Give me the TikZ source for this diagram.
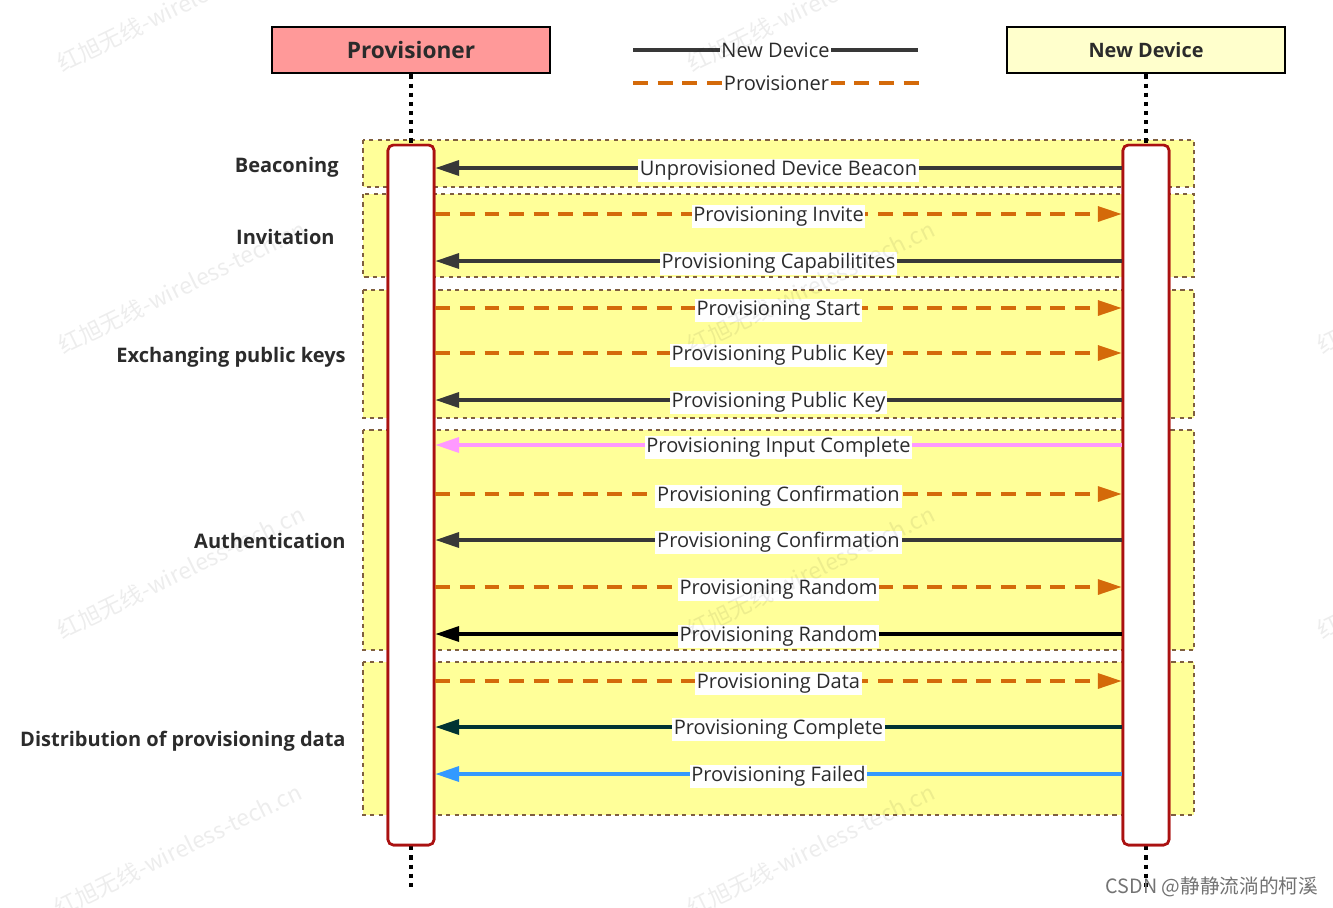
\documentclass[tikz,border=0pt]{standalone}
\usepackage{fontspec}
\setmainfont{Open Sans}
\newfontfamily\cjk{Noto Sans CJK SC}
\usetikzlibrary{arrows.meta,positioning}
\definecolor{provred}{HTML}{FF9999}
\definecolor{devyellow}{HTML}{FFFFCC}
\definecolor{groupyellow}{HTML}{FFFF99}
\definecolor{groupbrown}{HTML}{7F5F3F}
\definecolor{barred}{HTML}{AA1111}
\definecolor{provorange}{HTML}{D46A0A}
\definecolor{devgray}{HTML}{383838}
\definecolor{inpink}{HTML}{FF99FF}
\definecolor{donegreen}{HTML}{003333}
\definecolor{failblue}{HTML}{3399FF}
\definecolor{txtgray}{HTML}{2B2B2B}
\newcommand\msgfont{\fontsize{11.4}{13.5}\selectfont}
\tikzset{
  head/.style={draw=black,line width=1.6pt,minimum width=5.56cm,minimum height=0.92cm,
    font=\bfseries\fontsize{11.3}{13.5}\selectfont,text=txtgray},
  bar/.style={draw=barred,fill=white,line width=1.5pt,rounded corners=3pt,
    minimum width=0.92cm,minimum height=14cm},
  lifeline/.style={line width=2pt,dash pattern=on 2.4pt off 2.8pt},
  group/.style={draw=groupbrown,fill=groupyellow,line width=0.9pt,dash pattern=on 2.4pt off 2.4pt},
  grouplabel/.style={anchor=east,inner sep=0pt,font=\bfseries\msgfont,text=txtgray},
  msg/.style={fill=white,inner sep=1pt,yshift=-1.5pt,font=\msgfont,text=txtgray},
  tip/.style={-{Triangle[length=13.5pt,width=8.5pt]}},
  devmsg/.style={tip,draw=devgray,line width=2pt},
  provmsg/.style={tip,draw=provorange,line width=1.8pt,dash pattern=on 8.5pt off 5.5pt},
  wmark/.style={rotate=26,font=\cjk\fontsize{13}{15}\selectfont,text=black,text opacity=0.07}
}
\begin{document}
\begin{tikzpicture}[x=0.02cm,y=-0.02cm]
\useasboundingbox (0,0) rectangle (1333,907);
\clip (0,0) rectangle (1333,907);

% groups
\draw[group] (363,140) rectangle (1194,187);
\draw[group] (363,194) rectangle (1194,277);
\draw[group] (363,290) rectangle (1194,418);
\draw[group] (363,430) rectangle (1194,650);
\draw[group] (363,662) rectangle (1194,815);
\node[grouplabel] (lbeacon) at (339,167) {Beaconing};
\node[grouplabel] (linvite) at (335,237) {Invitation};
\node[grouplabel] (lkeys) at (346,357) {Exchanging public keys};
\node[grouplabel] (lauth) at (346,541) {Authentication};
\node[grouplabel] (ldist) at (346,741) {Distribution of provisioning data};

% participants
\node[head,fill=provred,font=\bfseries\fontsize{12.9}{15}\selectfont] (provhead) at (411,50) {Provisioner};
\node[head,fill=devyellow] (devhead) at (1146,50) {New Device};
\node[bar] (provbar) at (411,495) {};
\node[bar] (devbar) at (1146,495) {};
\coordinate (provend) at (411,887);
\coordinate (devend) at (1146,887);
\draw[lifeline] (provhead.south) -- (provbar.north);
\draw[lifeline] (devhead.south) -- (devbar.north);
\draw[lifeline] (provbar.south) -- (provend);
\draw[lifeline] (devbar.south) -- (devend);
\node[bar] at (provbar) {};
\node[bar] at (devbar) {};

% legend
\coordinate (lgdevA) at (633,50);
\coordinate (lgdevB) at (918,50);
\coordinate (lgprovA) at (633,83);
\coordinate (lgprovB) at (920,83);
\draw[draw=devgray,line width=2pt] (lgdevA) -- node[msg,yshift=1.5pt] (lgdev) {New Device} (lgdevB);
\draw[draw=provorange,line width=1.8pt,dash pattern=on 8.5pt off 5.5pt] (lgprovA) -- node[msg,yshift=1.5pt] (lgprov) {Provisioner} (lgprovB);

% messages
\draw[devmsg] (devbar.west |- 0,168) -- node[msg]{Unprovisioned Device Beacon} (provbar.east |- 0,168);
\draw[provmsg] (provbar.east |- 0,214) -- node[msg]{Provisioning Invite} (devbar.west |- 0,214);
\draw[devmsg] (devbar.west |- 0,261) -- node[msg]{Provisioning Capabilitites} (provbar.east |- 0,261);
\draw[provmsg] (provbar.east |- 0,308) -- node[msg]{Provisioning Start} (devbar.west |- 0,308);
\draw[provmsg] (provbar.east |- 0,353) -- node[msg]{Provisioning Public Key} (devbar.west |- 0,353);
\draw[devmsg] (devbar.west |- 0,400) -- node[msg]{Provisioning Public Key} (provbar.east |- 0,400);
\draw[devmsg,draw=inpink] (devbar.west |- 0,445) -- node[msg]{Provisioning Input Complete} (provbar.east |- 0,445);
\draw[provmsg] (provbar.east |- 0,494) -- node[msg]{Provisioning Confirmation} (devbar.west |- 0,494);
\draw[devmsg] (devbar.west |- 0,540) -- node[msg]{Provisioning Confirmation} (provbar.east |- 0,540);
\draw[provmsg] (provbar.east |- 0,587) -- node[msg]{Provisioning Random} (devbar.west |- 0,587);
\draw[devmsg,draw=black] (devbar.west |- 0,634) -- node[msg]{Provisioning Random} (provbar.east |- 0,634);
\draw[provmsg] (provbar.east |- 0,681) -- node[msg]{Provisioning Data} (devbar.west |- 0,681);
\draw[devmsg,draw=donegreen] (devbar.west |- 0,727) -- node[msg]{Provisioning Complete} (provbar.east |- 0,727);
\draw[devmsg,draw=failblue] (devbar.west |- 0,774) -- node[msg]{Provisioning Failed} (provbar.east |- 0,774);

% watermarks
\node[wmark] (wm1) at (181,5) {红旭无线-wireless-tech.cn};
\node[wmark] (wm2) at (182,287) {红旭无线-wireless-tech.cn};
\node[wmark] (wm3) at (181,572) {红旭无线-wireless-tech.cn};
\node[wmark] (wm4) at (178,850) {红旭无线-wireless-tech.cn};
\node[wmark] (wm5) at (811,5) {红旭无线-wireless-tech.cn};
\node[wmark] (wm6) at (811,287) {红旭无线-wireless-tech.cn};
\node[wmark] (wm7) at (811,572) {红旭无线-wireless-tech.cn};
\node[wmark] (wm8) at (811,850) {红旭无线-wireless-tech.cn};
\node[wmark] (wm9) at (1441,287) {红旭无线-wireless-tech.cn};
\node[wmark] (wm10) at (1441,572) {红旭无线-wireless-tech.cn};
\node[font=\cjk\fontsize{11.2}{13}\selectfont,text=black!55] (csdn) at (1212,887) {CSDN @静静流淌的柯溪};
\end{tikzpicture}
\end{document}
